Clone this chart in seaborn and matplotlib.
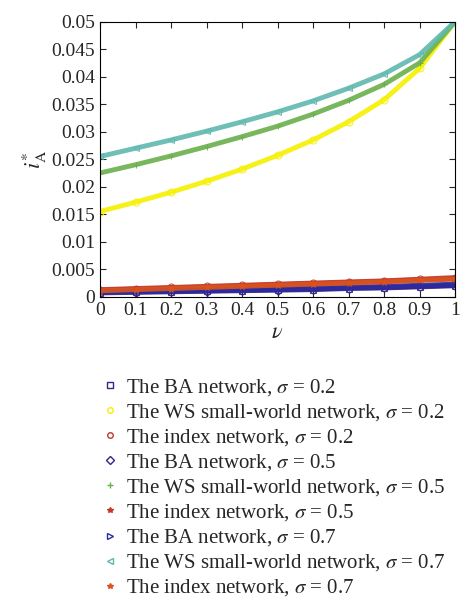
import matplotlib
matplotlib.use("Agg")
import matplotlib.pyplot as plt
import seaborn as sns
import pandas as pd
import numpy as np

nu = [0, 0.1, 0.2, 0.3, 0.4, 0.5, 0.6, 0.7, 0.8, 0.9, 1.0]
ba_02 = [0.0007, 0.0008, 0.0009, 0.0010, 0.0011, 0.0012, 0.0013, 0.0015, 0.0016, 0.0018, 0.0020]
ws_02 = [0.0155, 0.0172, 0.0190, 0.0210, 0.0232, 0.0257, 0.0285, 0.0318, 0.0358, 0.0415, 0.0500]
ix_02 = [0.0013, 0.0015, 0.0017, 0.0019, 0.0021, 0.0023, 0.0025, 0.0027, 0.0029, 0.0032, 0.0035]
ba_05 = [0.0008, 0.0009, 0.0010, 0.0011, 0.0012, 0.0013, 0.0014, 0.0016, 0.0017, 0.0019, 0.0021]
ws_05 = [0.0225, 0.0240, 0.0256, 0.0273, 0.0291, 0.0310, 0.0332, 0.0357, 0.0386, 0.0425, 0.0500]
ix_05 = [0.0012, 0.0014, 0.0016, 0.0018, 0.0020, 0.0022, 0.0024, 0.0026, 0.0028, 0.0031, 0.0033]
ba_07 = [0.0009, 0.0010, 0.0011, 0.0012, 0.0013, 0.0014, 0.0016, 0.0017, 0.0019, 0.0021, 0.0023]
ws_07 = [0.0255, 0.0270, 0.0285, 0.0301, 0.0318, 0.0336, 0.0356, 0.0379, 0.0405, 0.0440, 0.0500]
ix_07 = [0.0011, 0.0013, 0.0015, 0.0017, 0.0019, 0.0021, 0.0023, 0.0025, 0.0027, 0.0030, 0.0032]

series = [
    ("The BA network, $\\sigma$ = 0.2", ba_02, "#2b2b8c", "s"),
    ("The WS small-world network, $\\sigma$ = 0.2", ws_02, "#f5f000", "o"),
    ("The index network, $\\sigma$ = 0.2", ix_02, "#c0392b", "o"),
    ("The BA network, $\\sigma$ = 0.5", ba_05, "#3a1f8f", "D"),
    ("The WS small-world network, $\\sigma$ = 0.5", ws_05, "#6ab04c", "+"),
    ("The index network, $\\sigma$ = 0.5", ix_05, "#c0392b", "*"),
    ("The BA network, $\\sigma$ = 0.7", ba_07, "#2c2ca0", ">"),
    ("The WS small-world network, $\\sigma$ = 0.7", ws_07, "#5fb8b0", "<"),
    ("The index network, $\\sigma$ = 0.7", ix_07, "#d9541e", "*"),
]

sns.set_style("ticks")
plt.rcParams['font.family'] = ['Liberation Serif', 'DejaVu Serif']
plt.rcParams['mathtext.fontset'] = 'stix'

fig = plt.figure(figsize=(4.74, 6.02), dpi=100)
ax = fig.add_axes([0.211, 0.507, 0.749, 0.457])
for name, vals, col, mk in series:
    df = pd.DataFrame({"nu": nu, "v": vals})
    filled = mk in ("+", "*")
    sns.lineplot(data=df, x="nu", y="v", ax=ax, color=col, lw=3.5, alpha=0.9,
                 marker=mk, markersize=5,
                 markerfacecolor=col if filled else "none",
                 markeredgecolor=col, label=name)

ax.set_xlim(0, 1)
ax.set_ylim(0, 0.05)
ax.set_xticks(np.arange(0, 1.01, 0.1))
ax.set_xticklabels(["0", "0.1", "0.2", "0.3", "0.4", "0.5", "0.6", "0.7", "0.8", "0.9", "1"])
ax.set_yticks(np.arange(0, 0.0501, 0.005))
ax.set_yticklabels(["0", "0.005", "0.01", "0.015", "0.02", "0.025", "0.03", "0.035", "0.04", "0.045", "0.05"])
ax.tick_params(direction="in", top=True, right=True, labelsize=14, length=4)
for s in ax.spines.values():
    s.set_visible(True)
    s.set_color("black")
ax.set_xlabel("$\\nu$", fontsize=16)
ax.set_ylabel("$i_{\\mathrm{A}}^{*}$", fontsize=16, labelpad=2)

handles, labels = ax.get_legend_handles_labels()
ax.get_legend().remove()
from matplotlib.lines import Line2D
hs = [Line2D([], [], ls="none", marker=mk, color=col, markersize=4,
             markerfacecolor=col if mk in ("+", "*") else "none")
      for _, _, col, mk in series]
fig.legend(hs, labels, loc="upper left", bbox_to_anchor=(0.17, 0.405), frameon=False,
           fontsize=15, handletextpad=0.3, labelspacing=0.2, handlelength=1.0)
fig.savefig("out.png", dpi=100)
